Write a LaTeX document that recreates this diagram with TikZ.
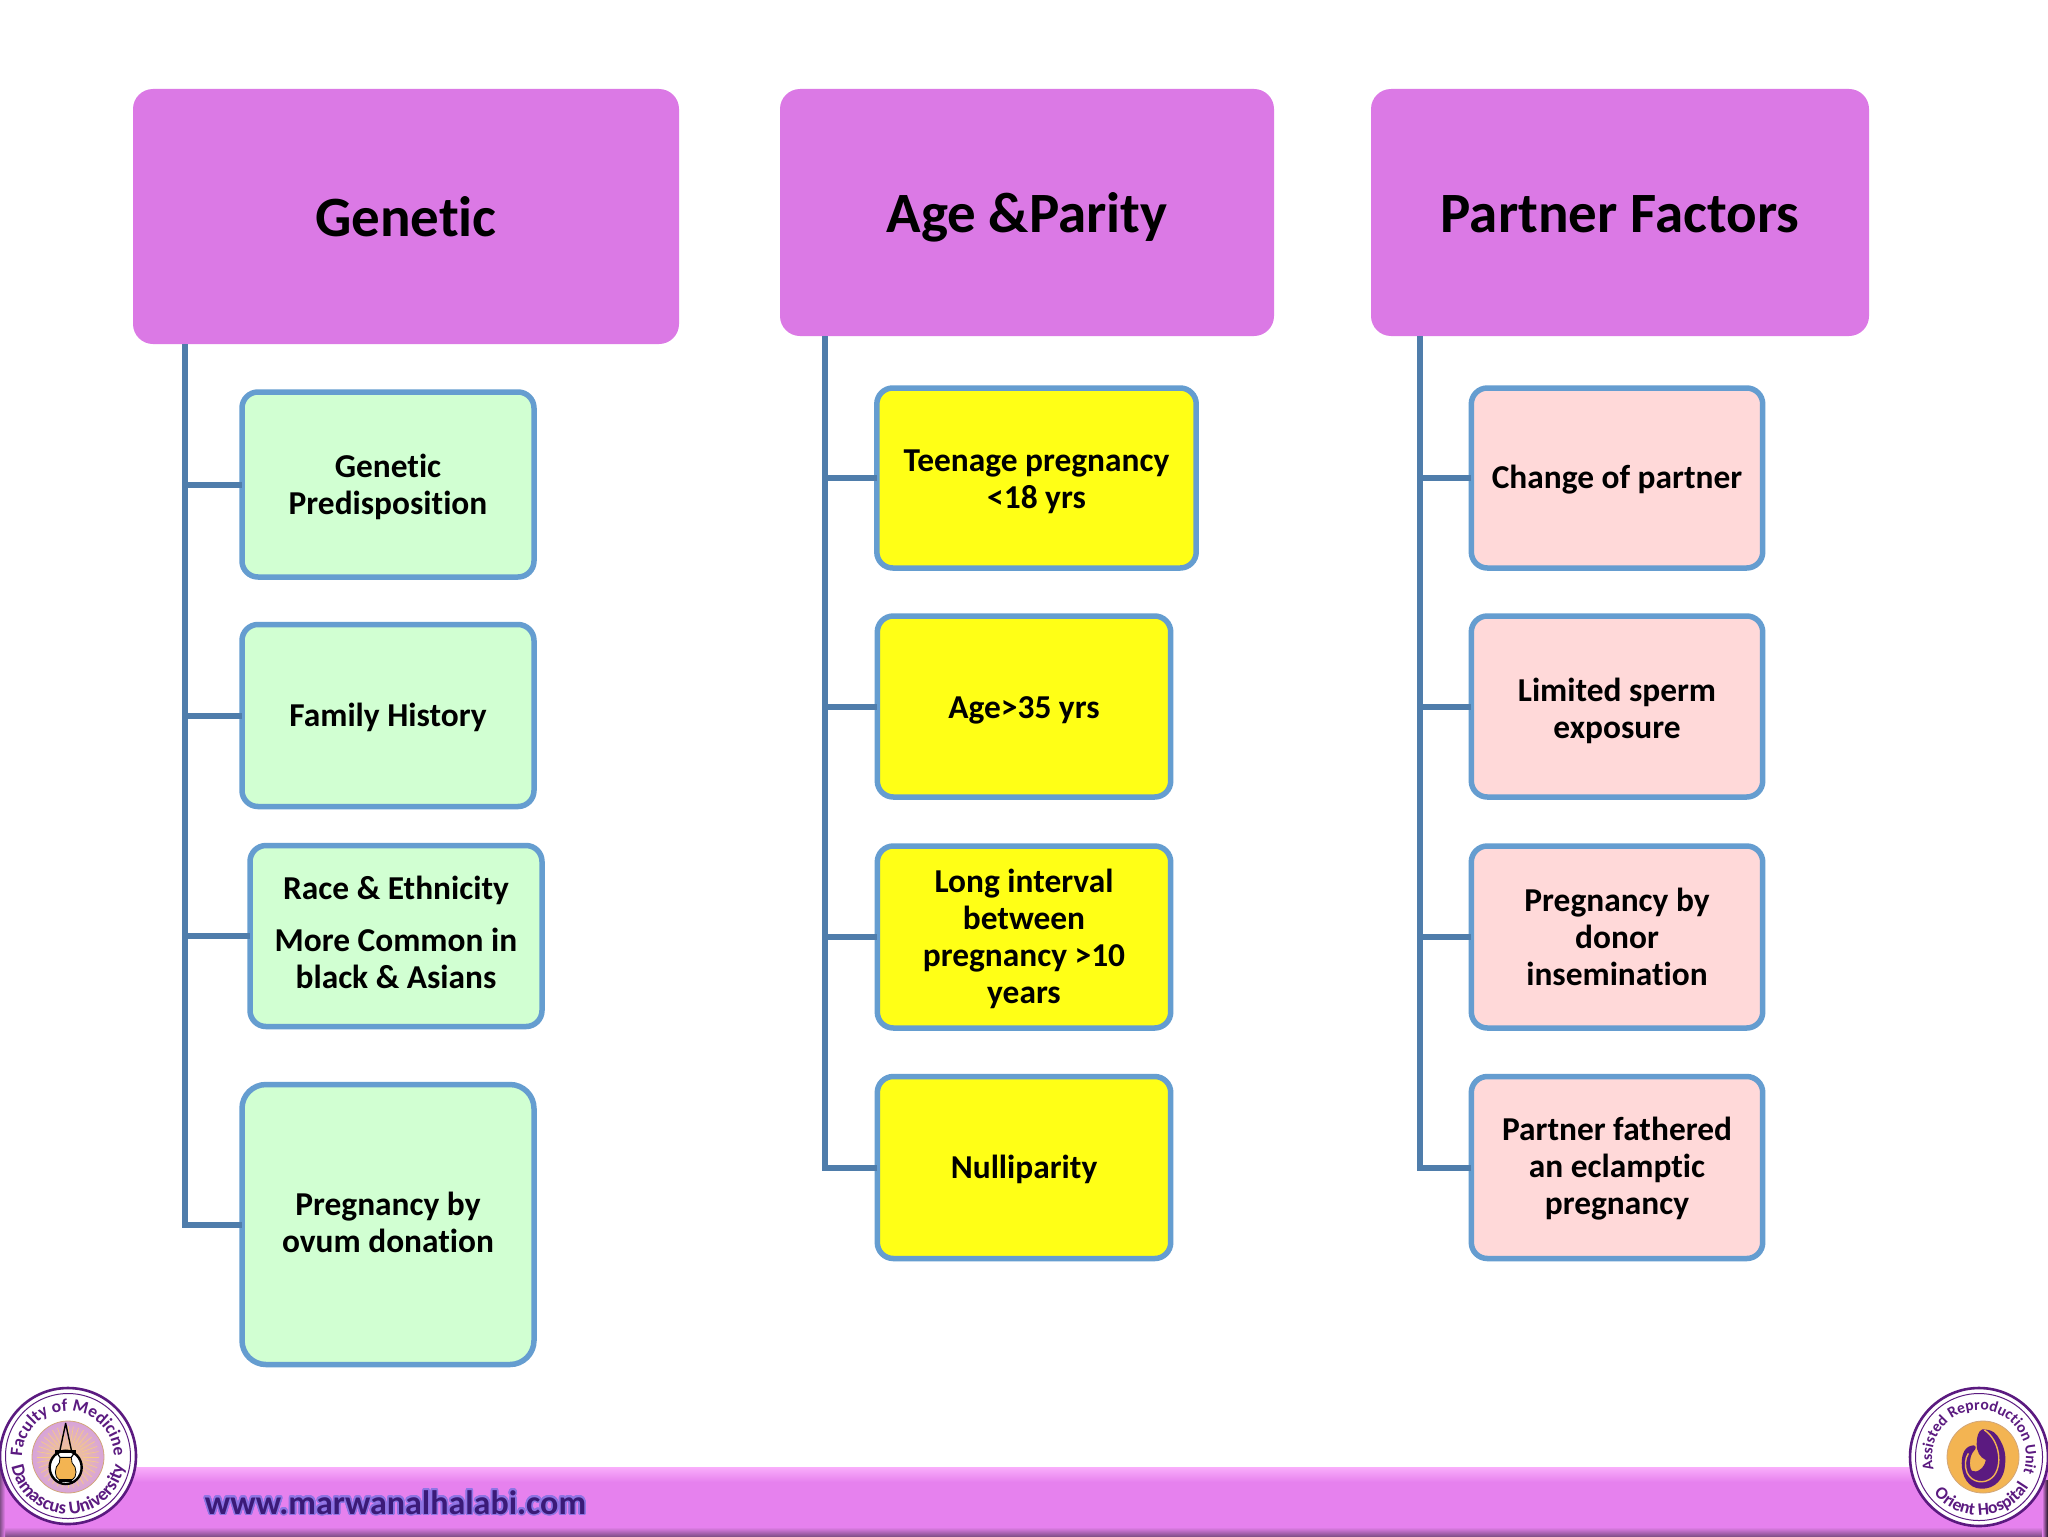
\documentclass[tikz,border=0pt]{standalone}
\usepackage{fontspec}
\usepackage[copies]{contour}
\setmainfont[Ligatures=NoCommon]{Carlito}
\usetikzlibrary{decorations.text}
\definecolor{headpink}{HTML}{DB79E5}
\definecolor{greenfill}{HTML}{D1FFD2}
\definecolor{yellowfill}{HTML}{FFFF16}
\definecolor{rosefill}{HTML}{FFD9D9}
\definecolor{boxblue}{HTML}{659DD0}
\definecolor{trunkblue}{HTML}{4F7DAB}
\definecolor{barpink}{HTML}{E681EE}
\definecolor{barlight}{HTML}{F9AEFB}
\definecolor{bardark}{HTML}{85508C}
\definecolor{logopurple}{HTML}{5B1A80}
\definecolor{logogold}{HTML}{F3B452}
\definecolor{logolilac}{HTML}{D7A3DC}
\definecolor{urlnavy}{HTML}{3B1A78}
\definecolor{urlglow}{HTML}{8E74E4}
\contournumber{24}
\contourlength{0.8pt}
\tikzset{
  headbox/.style={fill=headpink, rounded corners=10pt, inner sep=0pt, outer sep=0pt, align=center, text height=25.5pt, text depth=6pt, font=\bfseries\fontsize{28.5}{34}\selectfont},
  riskbox/.style={draw=boxblue, line width=2.75pt, rounded corners=8pt, inner sep=0pt, outer sep=0pt, align=center, font=\bfseries\fontsize{16.7}{18.5}\selectfont},
  greenbox/.style={riskbox, fill=greenfill, minimum width=146pt},
  yellowbox/.style={riskbox, fill=yellowfill, minimum width=146.7pt},
  rosebox/.style={riskbox, fill=rosefill, minimum width=145.7pt},
  trunkline/.style={trunkblue, line width=3pt},
  logotext/.style={decorate, decoration={text along path, text align=center, text={#1}}}
}
\newcommand{\logofont}{\bfseries\fontsize{8.8}{9}\selectfont\color{logopurple}}
\newcommand{\logowide}{\bfseries\fontsize{9.3}{10}\selectfont\color{logopurple}}
\newcommand{\logosmall}{\bfseries\fontsize{7.8}{9}\selectfont\color{logopurple}}
\begin{document}
\begin{tikzpicture}[x=0.5pt,y=-0.5pt]
\useasboundingbox (0,0) rectangle (2048,1536);
\fill[white] (0,0) rectangle (2048,1536);

% genetic section
\node[headbox, minimum width=273pt, minimum height=127.5pt] (genetichead) at (406,216.5) {Genetic};
\node[greenbox, minimum height=92.5pt, text height=33pt] (geneticbox1) at (388,484.5) {Genetic\\Predisposition};
\node[greenbox, minimum height=91pt, text height=13.5pt] (geneticbox2) at (388,715.5) {Family History};
\node[greenbox, minimum height=90.5pt, text height=52.5pt] (geneticbox3) at (396,936) {Race \& Ethnicity\\[7.5pt]More Common in\\black \& Asians};
\node[greenbox, minimum height=140pt, rounded corners=12pt, text height=27.8pt] (geneticbox4) at (388,1224.5) {Pregnancy by\\ovum donation};
\coordinate (geneticroot) at (185,344);
\draw[trunkline] (geneticroot) |- (geneticbox1.west);
\draw[trunkline] (geneticroot) |- (geneticbox2.west);
\draw[trunkline] (geneticroot) |- (geneticbox3.west);
\draw[trunkline] (geneticroot) |- (geneticbox4.west);

% age and parity section
\node[headbox, minimum width=247pt, minimum height=123.5pt] (agehead) at (1027,212.5) {Age \&Parity};
\node[yellowbox, minimum width=159.7pt, minimum height=90pt, text height=33pt] (agebox1) at (1036.5,478) {Teenage pregnancy\\<18 yrs};
\node[yellowbox, minimum height=90.5pt, text height=14.8pt] (agebox2) at (1024,706.5) {Age>35 yrs};
\node[yellowbox, minimum height=91pt, text height=69.6pt] (agebox3) at (1024,937) {Long interval\\between\\pregnancy >10\\years};
\node[yellowbox, minimum height=91pt, text height=13.5pt] (agebox4) at (1024,1167.5) {Nulliparity};
\coordinate (ageroot) at (824.5,336);
\draw[trunkline] (ageroot) |- (agebox1.west);
\draw[trunkline] (ageroot) |- (agebox2.west);
\draw[trunkline] (ageroot) |- (agebox3.west);
\draw[trunkline] (ageroot) |- (agebox4.west);

% partner factors section
\node[headbox, minimum width=249pt, minimum height=123.5pt] (partnerhead) at (1620,212.5) {Partner Factors};
\node[rosebox, minimum height=90pt, text height=13.5pt] (partnerbox1) at (1617,478) {Change of partner};
\node[rosebox, minimum height=90.5pt, text height=34.3pt] (partnerbox2) at (1617,706.5) {Limited sperm\\exposure};
\node[rosebox, minimum height=91pt] (partnerbox3) at (1617,937) {Pregnancy by\\donor\\insemination};
\node[rosebox, minimum height=91pt, text height=49.8pt] (partnerbox4) at (1617,1167.5) {Partner fathered\\an eclamptic\\pregnancy};
\coordinate (partnerroot) at (1420,336);
\draw[trunkline] (partnerroot) |- (partnerbox1.west);
\draw[trunkline] (partnerroot) |- (partnerbox2.west);
\draw[trunkline] (partnerroot) |- (partnerbox3.west);
\draw[trunkline] (partnerroot) |- (partnerbox4.west);

% footer section
\fill[barpink] (0,1467) rectangle (2048,1536);
\shade[top color=barlight, bottom color=barpink] (0,1467) rectangle (2048,1482);
\shade[top color=barpink, bottom color=bardark] (0,1527) rectangle (2048,1536);
\shade[left color=bardark, right color=barpink] (0,1470) rectangle (5,1536);
\shade[left color=barpink, right color=black!80!bardark] (2042,1480) rectangle (2048,1536);
\node[inner sep=0pt, font=\bfseries\fontsize{17}{20}\selectfont, text=urlnavy] (urlname) at (395.5,1503) {\contour{urlglow}{www.marwanalhalabi.com}};

% left logo section
\filldraw[fill=white, draw=logopurple, line width=1.3pt] (68,1456) circle (68);
\draw[logopurple, line width=0.5pt] (68,1456) circle (62.5);
\begin{scope}[shift={(68,1457)}, x=0.5pt, y=0.5pt]
\shade[inner color=logogold!70!white, outer color=logolilac, draw=brown!70!white, line width=0.4pt] (0,0) circle (36);
\foreach \rayangle in {0,10,...,350}
  \draw[logogold!70!white, line width=0.3pt] (\rayangle:15) -- (\rayangle:31);
\path[logotext={|\logofont|Faculty of Medicine}] (210:46) arc[start angle=210, end angle=-30, radius=46];
\path[logotext={|\logowide|Damascus University}] (170:57) arc[start angle=170, end angle=370, radius=57];
\end{scope}
\begin{scope}[shift={(0,1380)}, x=0.1667pt, y=-0.1667pt]
\draw[black, line width=0.7pt, line join=round] (180,210) -- (197,130) -- (214,210);
\filldraw[fill=white, draw=black, line width=1.2pt] (197,262) ellipse (48 and 50);
\fill[logogold, draw=black, line width=0.4pt] (180,232) -- (214,232) -- (216,248) .. controls (232,262) and (232,292) .. (216,300) -- (178,300) .. controls (162,292) and (162,262) .. (178,248) -- cycle;
\draw[black, line width=1.4pt] (166,214) -- (228,214);
\draw[black, line width=0.6pt] (168,214) -- (180,232);
\draw[black, line width=0.6pt] (226,214) -- (214,232);
\fill[black] (178,298) rectangle (216,306);
\end{scope}

% right logo section
\filldraw[fill=white, draw=logopurple, line width=1.3pt] (1979,1457) circle (69);
\draw[logopurple, line width=0.5pt] (1979,1457) circle (63.5);
\filldraw[fill=logogold, draw=brown!70!white, line width=0.4pt] (1983,1457) circle (36);
\begin{scope}[shift={(1979,1457)}, x=0.5pt, y=0.5pt]
\path[logotext={|\logosmall|Assisted Reproduction Unit}] (215:47) arc[start angle=215, end angle=-39, radius=47];
\path[logotext={|\logofont|Orient Hospital}] (184:58) arc[start angle=184, end angle=364, radius=58];
\end{scope}
\begin{scope}[shift={(1905,1380)}, x=0.1667pt, y=-0.1667pt]
\fill[logopurple] (232,148) .. controls (262,148) and (275,160) .. (285,180) .. controls (296,200) and (304,220) .. (300,255) .. controls (298,295) and (270,328) .. (228,326) .. controls (190,325) and (170,290) .. (170,250) .. controls (170,220) and (180,198) .. (205,196) .. controls (214,196) and (214,206) .. (207,212) .. controls (195,225) and (190,255) .. (200,272) .. controls (215,282) and (240,262) .. (242,240) .. controls (225,232) and (214,215) .. (215,190) .. controls (215,170) and (220,152) .. (232,148) -- cycle;
\draw[logogold, line width=0.7pt] (238,150) .. controls (285,180) and (295,260) .. (262,292) .. controls (238,314) and (200,308) .. (186,278) .. controls (178,258) and (180,235) .. (190,220);
\end{scope}
\end{tikzpicture}
\end{document}
